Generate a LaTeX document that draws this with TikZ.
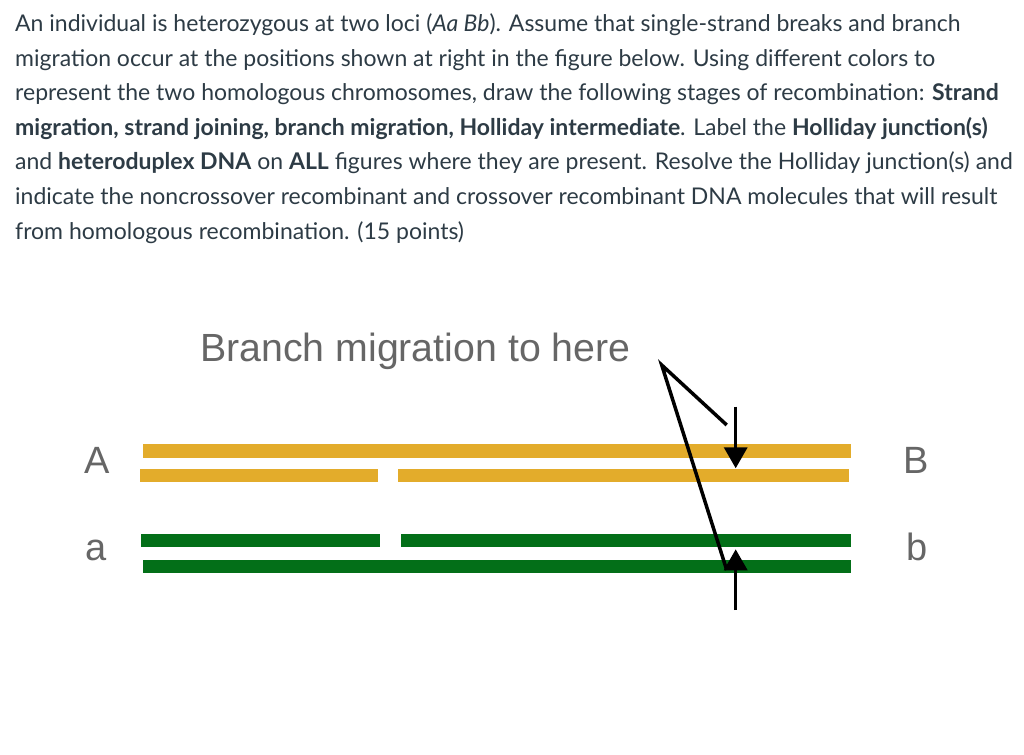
\documentclass[tikz,border=0pt]{standalone}
\usepackage{fontspec}
\setmainfont{Lato}
\newfontfamily\labfont{Liberation Sans}
\usetikzlibrary{arrows.meta}
\definecolor{bodytext}{HTML}{2D3B45}
\definecolor{labgray}{HTML}{666666}
\definecolor{strandyellow}{HTML}{E3AC2B}
\definecolor{strandgreen}{HTML}{036F18}
\tikzset{
  bodyline/.style={anchor=base west, inner sep=0pt, text=bodytext, font=\fontsize{23}{27}\selectfont},
  seglabel/.style={anchor=base, inner sep=0pt, text=labgray, font=\labfont\fontsize{38}{40}\selectfont},
  yellowstrand/.style={fill=strandyellow, draw=none},
  greenstrand/.style={fill=strandgreen, draw=none},
  pointer/.style={line width=3.5pt, draw=black, line join=miter},
  breakarrow/.style={line width=3.5pt, draw=black, -{Triangle[width=23pt,length=21pt]}}
}
\begin{document}
\begin{tikzpicture}[x=1pt,y=-1pt]
\useasboundingbox (0,0) rectangle (1024,754);
% question text
\node[bodyline] (t1) at (15,32) {An individual is heterozygous at two loci (\textit{Aa Bb}). Assume that single-strand breaks and branch};
\node[bodyline] (t2) at (15,66.5) {migration occur at the positions shown at right in the figure below. Using different colors to};
\node[bodyline] (t3) at (15,101) {represent the two homologous chromosomes, draw the following stages of recombination: \textbf{Strand}};
\node[bodyline] (t4) at (15,135.5) {\textbf{migration, strand joining, branch migration, Holliday intermediate}. Label the \textbf{Holliday junction(s)}};
\node[bodyline] (t5) at (15,170) {and \textbf{heteroduplex DNA} on \textbf{ALL} figures where they are present. Resolve the Holliday junction(s) and};
\node[bodyline] (t6) at (15,204.5) {indicate the noncrossover recombinant and crossover recombinant DNA molecules that will result};
\node[bodyline] (t7) at (15,239) {from homologous recombination. (15 points)};
% strands
\fill[yellowstrand] (142.7,444) rectangle (851,457.5);
\fill[yellowstrand] (140,469) rectangle (378.3,482.3);
\fill[yellowstrand] (398.3,469) rectangle (849,482.3);
\fill[greenstrand] (141.3,533.5) rectangle (380,547.3);
\fill[greenstrand] (401,533.5) rectangle (851,547.3);
\fill[greenstrand] (142.7,559.5) rectangle (851,573.3);
% labels
\node[seglabel, font=\labfont\fontsize{39.3}{42}\selectfont, anchor=base west] (lab) at (200,361.7) {Branch migration to here};
\node[seglabel] (A) at (97.5,473.3) {A};
\node[seglabel] (a) at (96.5,560.5) {a};
\node[seglabel] (B) at (916,473.3) {B};
\node[seglabel] (b) at (917,560.3) {b};
% pointer lines
\coordinate (p1) at (726.7,425);
\coordinate (apex) at (661.7,365);
\coordinate (p2) at (726.7,570);
\draw[pointer] (p1) -- (apex) -- (p2);
% break arrows
\coordinate (d0) at (735.7,406.7);
\coordinate (d1) at (735.7,468.3);
\coordinate (u0) at (735.7,610);
\coordinate (u1) at (735.7,549.3);
\draw[breakarrow] (d0) -- (d1);
\draw[breakarrow] (u0) -- (u1);
\end{tikzpicture}
\end{document}
